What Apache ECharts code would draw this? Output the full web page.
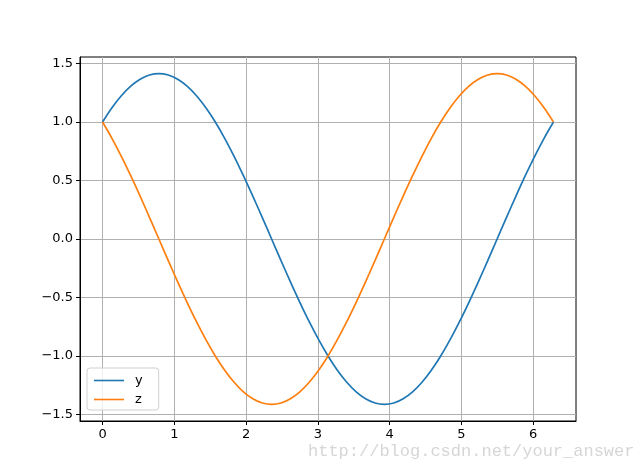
<!DOCTYPE html>
<html><head><meta charset="utf-8">
<script src="https://cdn.jsdelivr.net/npm/echarts@6/dist/echarts.min.js"></script>
<style>html,body{margin:0;padding:0;background:#fff}#c{width:640px;height:473px}</style>
</head><body><div id="c"></div>
<script>
var xVals = [0, 0.131, 0.262, 0.393, 0.524, 0.654, 0.785, 0.916, 1.047, 1.178, 1.309, 1.440, 1.571, 1.702, 1.833, 1.963, 2.094, 2.225, 2.356, 2.487, 2.618, 2.749, 2.880, 3.011, 3.142, 3.272, 3.403, 3.534, 3.665, 3.796, 3.927, 4.058, 4.189, 4.320, 4.451, 4.581, 4.712, 4.843, 4.974, 5.105, 5.236, 5.367, 5.498, 5.629, 5.760, 5.890, 6.021, 6.152, 6.283];
var yVals = [1.0, 1.122, 1.225, 1.307, 1.366, 1.402, 1.414, 1.402, 1.366, 1.307, 1.225, 1.122, 1.0, 0.861, 0.707, 0.541, 0.366, 0.185, 0, -0.185, -0.366, -0.541, -0.707, -0.861, -1.0, -1.122, -1.225, -1.307, -1.366, -1.402, -1.414, -1.402, -1.366, -1.307, -1.225, -1.122, -1.0, -0.861, -0.707, -0.541, -0.366, -0.185, 0, 0.185, 0.366, 0.541, 0.707, 0.861, 1.0];
var zVals = [1.0, 0.861, 0.707, 0.541, 0.366, 0.185, 0, -0.185, -0.366, -0.541, -0.707, -0.861, -1.0, -1.122, -1.225, -1.307, -1.366, -1.402, -1.414, -1.402, -1.366, -1.307, -1.225, -1.122, -1.0, -0.861, -0.707, -0.541, -0.366, -0.185, 0, 0.185, 0.366, 0.541, 0.707, 0.861, 1.0, 1.122, 1.225, 1.307, 1.366, 1.402, 1.414, 1.402, 1.366, 1.307, 1.225, 1.122, 1.0];
var xTicks = [0, 1, 2, 3, 4, 5, 6];
var yTicks = [-1.5, -1.0, -0.5, 0.0, 0.5, 1.0, 1.5];
var seriesNames = ['y', 'z'];

function pairs(xs, vs){ return xs.map(function(x,i){ return [x, vs[i]]; }); }
var font = 'DejaVu Sans';
var chart = echarts.init(document.getElementById('c'), null, {renderer:'canvas'});
chart.setOption({
  animation: false,
  backgroundColor: '#fff',
  grid: {left: 80, right: 64, top: 57, bottom: 52, show: true, borderColor: '#000', borderWidth: 1, backgroundColor: 'transparent'},
  xAxis: {
    type: 'value', min: -0.314, max: 6.597,
    axisLine: {show: true, onZero: false, lineStyle: {color: '#000', width: 1}},
    axisTick: {show: true, inside: false, length: 4, lineStyle: {color: '#000', width: 1}, customValues: xTicks},
    axisLabel: {customValues: xTicks, color: '#000', fontFamily: font, fontSize: 13, margin: 7, formatter: function(v){ return String(v); }},
    splitLine: {show: true, lineStyle: {color: '#b0b0b0', width: 1}}
  },
  yAxis: {
    type: 'value', min: -1.556, max: 1.556,
    axisLine: {show: true, onZero: false, lineStyle: {color: '#000', width: 1}},
    axisTick: {show: true, inside: false, length: 4, lineStyle: {color: '#000', width: 1}, customValues: yTicks},
    axisLabel: {customValues: yTicks, color: '#000', fontFamily: font, fontSize: 13, margin: 7, formatter: function(v){ return v.toFixed(1).replace('-', '\u2212'); }},
    splitLine: {show: true, lineStyle: {color: '#b0b0b0', width: 1}}
  },
  legend: {
    data: seriesNames, left: 87, top: 368, orient: 'vertical',
    backgroundColor: 'rgba(255,255,255,0.8)', borderColor: '#d0d0d0', borderWidth: 1, borderRadius: 3,
    padding: [6, 16, 4, 7], itemGap: 6, itemWidth: 30, itemHeight: 10,
    icon: 'path://M0,4.2L30,4.2L30,5.8L0,5.8Z',
    textStyle: {color: '#000', fontFamily: font, fontSize: 13, padding: [0,0,0,6]}
  },
  graphic: [{
    type: 'text', left: 308, top: 443, z: 100,
    style: {text: 'http://blog.csdn.net/your_answer', fill: '#d6d6d6', font: '17px "Liberation Mono"'}
  }],
  series: [
    {name: seriesNames[0], type: 'line', data: pairs(xVals, yVals), smooth: 0.3, showSymbol: false, symbol: 'none', lineStyle: {color: '#1f77b4', width: 1.7}, itemStyle: {color: '#1f77b4'}},
    {name: seriesNames[1], type: 'line', data: pairs(xVals, zVals), smooth: 0.3, showSymbol: false, symbol: 'none', lineStyle: {color: '#ff7f0e', width: 1.7}, itemStyle: {color: '#ff7f0e'}}
  ]
});
</script></body></html>
